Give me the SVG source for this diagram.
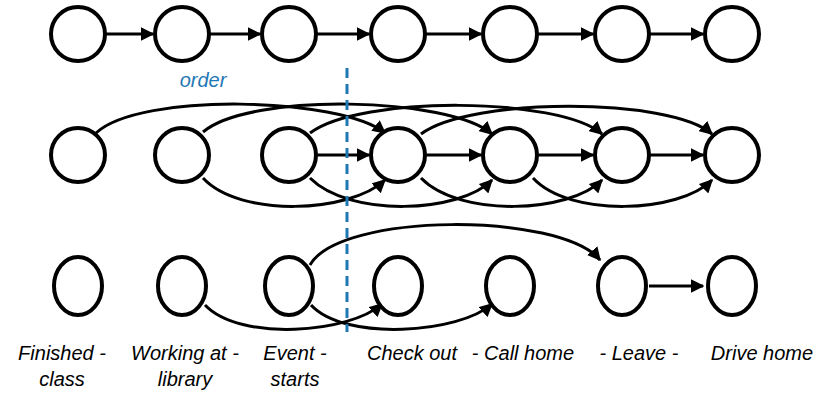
<svg xmlns="http://www.w3.org/2000/svg" width="832" height="408" viewBox="0 0 832 408">
<style>
.n{fill:#fff;stroke:#000;stroke-width:4}
.e{fill:none;stroke:#000;stroke-width:3;marker-end:url(#a)}
.t{font-family:"Liberation Sans",Arial,sans-serif;font-style:italic;font-size:20px;fill:#000;text-anchor:middle}
</style>
<defs><marker id="a" viewBox="0 0 10 10" refX="9" refY="5" markerWidth="4.5" markerHeight="4.5" orient="auto" markerUnits="strokeWidth"><path d="M0,0L10,5L0,10z"/></marker></defs>
<g id="edges">
<path class="e" d="M105,34H153"/><path class="e" d="M209,34H260"/><path class="e" d="M316,34H369"/><path class="e" d="M425,34H481"/><path class="e" d="M537,34H593"/><path class="e" d="M649,34H703"/>
<path class="e" d="M316,155H369"/><path class="e" d="M425,155H481"/><path class="e" d="M537,155H593"/><path class="e" d="M649,155H703"/>
<path class="e" d="M96,133C140,92 340,97 385,133"/>
<path class="e" d="M203,132C250,92 450,97 492,134"/>
<path class="e" d="M310,133C360,95 560,97 602,134"/>
<path class="e" d="M421,134C470,97 670,97 712,134"/>
<path class="e" d="M203,178C240,218 350,213 385,180"/>
<path class="e" d="M310,178C350,218 460,213 492,180"/>
<path class="e" d="M421,178C460,218 570,213 602,180"/>
<path class="e" d="M533,178C570,218 680,213 712,180"/>
<path class="e" d="M649,286H703"/>
<path class="e" d="M310,265C340,212 560,212 600,260"/>
<path class="e" d="M205,305C240,342 350,333 382,304"/>
<path class="e" d="M311,305C345,342 460,333 492,304"/>
</g>
<g id="nodes">
<g id="r1"><circle class="n" cx="78" cy="34" r="27"/><circle class="n" cx="182" cy="34" r="27"/><circle class="n" cx="289" cy="34" r="27"/><circle class="n" cx="398" cy="34" r="27"/><circle class="n" cx="510" cy="34" r="27"/><circle class="n" cx="622" cy="34" r="27"/><circle class="n" cx="732" cy="34" r="27"/></g>
<g id="r2"><circle class="n" cx="78" cy="155" r="27"/><circle class="n" cx="182" cy="155" r="27"/><circle class="n" cx="289" cy="155" r="27"/><circle class="n" cx="398" cy="155" r="27"/><circle class="n" cx="510" cy="155" r="27"/><circle class="n" cx="622" cy="155" r="27"/><circle class="n" cx="732" cy="155" r="27"/></g>
<g id="r3"><ellipse class="n" cx="78" cy="286" rx="24" ry="29"/><ellipse class="n" cx="182" cy="286" rx="24" ry="29"/><ellipse class="n" cx="289" cy="286" rx="24" ry="29"/><ellipse class="n" cx="398" cy="286" rx="24" ry="29"/><ellipse class="n" cx="510" cy="286" rx="24" ry="29"/><ellipse class="n" cx="622" cy="286" rx="24" ry="29"/><ellipse class="n" cx="732" cy="286" rx="24" ry="29"/></g>
</g>
<path d="M347,68V332" stroke="#1f77b4" stroke-width="3" stroke-dasharray="10,6" fill="none"/>
<text x="203" y="87" class="t" style="fill:#1f77b4">order</text>
<g id="labels">
<text class="t" x="62" y="360">Finished -</text><text class="t" x="62" y="386">class</text>
<text class="t" x="185" y="360">Working at -</text><text class="t" x="185" y="386">library</text>
<text class="t" x="295" y="360">Event -</text><text class="t" x="295" y="386">starts</text>
<text class="t" x="412" y="360">Check out</text>
<text class="t" x="523" y="360">- Call home</text>
<text class="t" x="639" y="360">- Leave  -</text>
<text class="t" x="762" y="360">Drive home</text>
</g>
</svg>
